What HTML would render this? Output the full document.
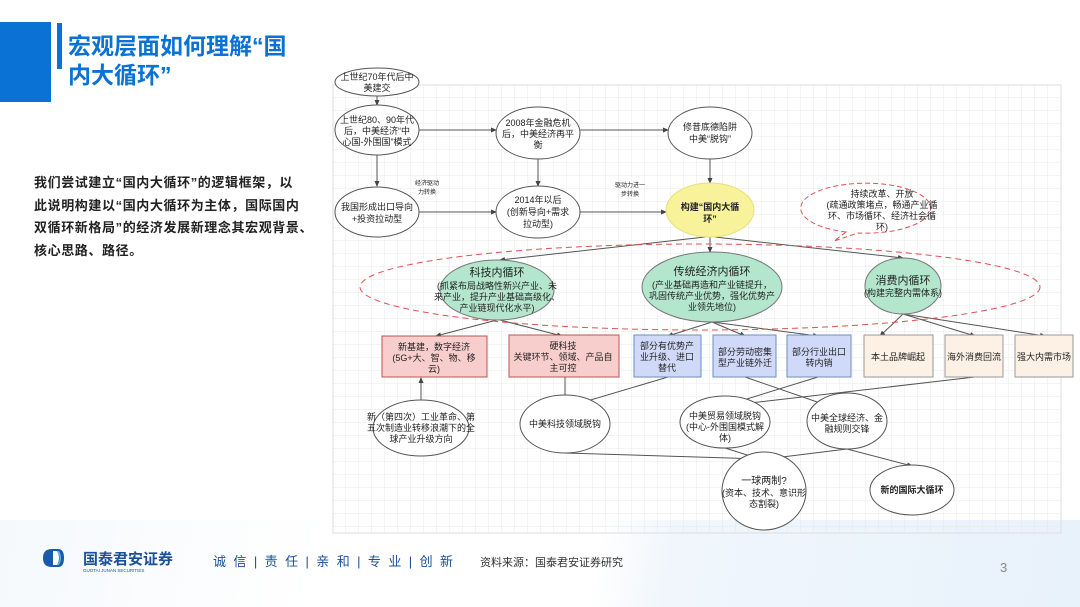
<!DOCTYPE html>
<html><head><meta charset="utf-8"><style>
html,body{margin:0;padding:0;}
body{width:1080px;height:607px;position:relative;overflow:hidden;background:#fff;font-family:"Liberation Sans","Noto Sans CJK SC",sans-serif;}
.abs{position:absolute;}
</style></head><body>
<div class="abs" style="left:0;top:520px;width:1080px;height:87px;background:linear-gradient(100deg,#f5f9fc 0%,#fff 30%,#fff 55%,#f0f6fc 62%,#e8f2fb 100%);"></div>
<div class="abs" style="left:0;top:22px;width:51px;height:80px;background:#0a72d4;"></div>
<div class="abs" style="left:57px;top:23px;width:5px;height:46px;background:#0a72d4;"></div>
<div class="abs" style="left:68px;top:32px;white-space:nowrap;font-size:23px;line-height:29px;font-weight:bold;color:#0a72d4;">宏观层面如何理解“国<br>内大循环”</div>
<div class="abs" style="left:34px;top:172px;white-space:nowrap;font-size:13px;letter-spacing:0.6px;line-height:22.5px;font-weight:bold;color:#222;">我们尝试建立“国内大循环”的逻辑框架，以<br>此说明构建以“国内大循环为主体，国际国内<br>双循环新格局”的经济发展新理念其宏观背景、<br>核心思路、路径。</div>

<svg class="abs" style="left:0;top:0" width="1080" height="607" xmlns="http://www.w3.org/2000/svg" font-family="Liberation Sans, Noto Sans CJK SC, sans-serif">
<defs>
<pattern id="g" width="13" height="13" patternUnits="userSpaceOnUse" x="333" y="85"><path d="M13 0V13H0" fill="none" stroke="#e4e4e4" stroke-width="0.8"/></pattern>
<marker id="a" markerWidth="6" markerHeight="6" refX="5" refY="3" orient="auto"><path d="M0,0.5L6,3L0,5.5z" fill="#444"/></marker>
</defs>
<rect x="333" y="85" width="728" height="448" fill="url(#g)" stroke="#ddd"/>
<g stroke="#555" stroke-width="1" fill="none" marker-end="url(#a)">
<line x1="377" y1="96" x2="377" y2="105"/>
<line x1="377" y1="155" x2="377" y2="186"/>
<line x1="419" y1="130" x2="496" y2="130"/>
<line x1="580" y1="130" x2="668" y2="130"/>
<line x1="538" y1="159" x2="538" y2="186"/>
<line x1="419" y1="212" x2="496" y2="212"/>
<line x1="580" y1="212" x2="666" y2="212"/>
<line x1="710" y1="159" x2="710" y2="183"/>
<line x1="710" y1="237" x2="710" y2="252"/>
<line x1="705" y1="237" x2="500" y2="260"/>
<line x1="715" y1="237" x2="903" y2="258"/>
<line x1="497" y1="320" x2="436" y2="336"/>
<line x1="500" y1="320" x2="562" y2="336"/>
<line x1="712" y1="322" x2="668" y2="336"/>
<line x1="712" y1="322" x2="745" y2="336"/>
<line x1="712" y1="322" x2="818" y2="336"/>
<line x1="903" y1="314" x2="880" y2="336"/>
<line x1="903" y1="314" x2="975" y2="336"/>
<line x1="903" y1="314" x2="1045" y2="336"/>
<line x1="421" y1="400" x2="421" y2="378"/>
<line x1="565" y1="377" x2="565" y2="407"/>
<line x1="668" y1="377" x2="567" y2="407"/>
<line x1="818" y1="377" x2="724" y2="406"/>
<line x1="975" y1="377" x2="724" y2="406"/>
<line x1="745" y1="377" x2="823" y2="404"/>
<line x1="565" y1="453" x2="762" y2="459"/>
<line x1="725" y1="448" x2="763" y2="460"/>
<line x1="847" y1="449" x2="766" y2="459"/>
<line x1="847" y1="449" x2="912" y2="466"/>
</g>
<g fill="#fff" stroke="#555" stroke-width="1">
<ellipse cx="377" cy="82" rx="42" ry="14"/>
<ellipse cx="377" cy="130" rx="42" ry="25"/>
<ellipse cx="377" cy="212" rx="42" ry="25"/>
<ellipse cx="538" cy="133" rx="42" ry="26"/>
<ellipse cx="538" cy="212" rx="42" ry="26"/>
<ellipse cx="710" cy="133" rx="42" ry="26"/>
<ellipse cx="710" cy="210" rx="44" ry="27" fill="#f8f39a" stroke="#e6e07a"/>
<ellipse cx="421" cy="428" rx="48" ry="28"/>
<ellipse cx="565" cy="424" rx="45" ry="29"/>
<ellipse cx="725" cy="422" rx="45" ry="26"/>
<ellipse cx="847" cy="421" rx="40" ry="28"/>
<ellipse cx="764" cy="491" rx="42" ry="39"/>
<ellipse cx="912" cy="490" rx="42" ry="25"/>
</g>
<ellipse cx="700" cy="287" rx="340" ry="43" fill="none" stroke="#e05050" stroke-dasharray="6,4"/>
<path d="M846 232 A65 25 0 1 1 858 233 L834 241 Z" fill="#fff" stroke="#e05050" stroke-dasharray="5,3"/>
<g fill="#b3e6cc" stroke="#777">
<ellipse cx="497" cy="290" rx="57" ry="30"/>
<ellipse cx="712" cy="287" rx="70" ry="35"/>
<ellipse cx="903" cy="286" rx="38" ry="28"/>
</g>
<rect x="382" y="336" width="105" height="41" fill="#f8cecc" stroke="#b85450"/>
<rect x="509" y="335" width="110" height="42" fill="#f8cecc" stroke="#b85450"/>
<rect x="634" y="335" width="67" height="42" fill="#d0d9f8" stroke="#6c8ebf"/>
<rect x="713" y="335" width="63" height="42" fill="#d0d9f8" stroke="#6c8ebf"/>
<rect x="787" y="335" width="64" height="42" fill="#d0d9f8" stroke="#6c8ebf"/>
<rect x="864" y="335" width="69" height="42" fill="#fdf1e6" stroke="#999"/>
<rect x="945" y="335" width="58" height="42" fill="#fdf1e6" stroke="#999"/>
<rect x="1015" y="335" width="58" height="42" fill="#fdf1e6" stroke="#999"/>
<g font-size="9" fill="#222" text-anchor="middle">
<text x="377" y="80">上世纪70年代后中</text><text x="377" y="91">美建交</text>
<text x="377" y="123">上世纪80、90年代</text><text x="377" y="134">后，中美经济“中</text><text x="377" y="145">心国-外围国”模式</text>
<text x="377" y="210">我国形成出口导向</text><text x="377" y="222">+投资拉动型</text>
<text x="538" y="126">2008年金融危机</text><text x="538" y="137">后，中美经济再平</text><text x="538" y="148">衡</text>
<text x="538" y="203">2014年以后</text><text x="538" y="215">(创新导向+需求</text><text x="538" y="227">拉动型)</text>
<text x="710" y="130">修昔底德陷阱</text><text x="710" y="142">中美“脱钩”</text>
<text x="710" y="210" font-weight="bold">构建“国内大循</text><text x="710" y="222" font-weight="bold">环”</text>
<text x="882" y="197">持续改革、开放</text><text x="882" y="208">(疏通政策堵点，畅通产业循</text><text x="882" y="219">环、市场循环、经济社会循</text><text x="882" y="230">环)</text>
<text x="497" y="276" font-size="11">科技内循环</text><text x="497" y="289">(抓紧布局战略性新兴产业、未</text><text x="497" y="300">来产业，提升产业基础高级化、</text><text x="497" y="311">产业链现代化水平)</text>
<text x="712" y="275" font-size="11">传统经济内循环</text><text x="712" y="288">(产业基础再造和产业链提升，</text><text x="712" y="299">巩固传统产业优势，强化优势产</text><text x="712" y="310">业领先地位)</text>
<text x="903" y="284" font-size="11">消费内循环</text><text x="903" y="296">(构建完整内需体系)</text>
<text x="434" y="350">新基建，数字经济</text><text x="434" y="361">(5G+大、智、物、移</text><text x="434" y="372">云)</text>
<text x="563" y="349">硬科技</text><text x="563" y="360">关键环节、领域、产品自</text><text x="563" y="371">主可控</text>
<text x="667" y="349">部分有优势产</text><text x="667" y="360">业升级、进口</text><text x="667" y="371">替代</text>
<text x="745" y="355">部分劳动密集</text><text x="745" y="366">型产业链外迁</text>
<text x="819" y="355">部分行业出口</text><text x="819" y="366">转内销</text>
<text x="898" y="360">本土品牌崛起</text>
<text x="974" y="360">海外消费回流</text>
<text x="1044" y="360">强大内需市场</text>
<text x="421" y="420">新（第四次）工业革命、第</text><text x="421" y="431">五次制造业转移浪潮下的全</text><text x="421" y="442">球产业升级方向</text>
<text x="565" y="427">中美科技领域脱钩</text>
<text x="725" y="419">中美贸易领域脱钩</text><text x="725" y="430">(中心-外围国模式解</text><text x="725" y="441">体)</text>
<text x="847" y="421">中美全球经济、金</text><text x="847" y="432">融规则交锋</text>
<text x="764" y="484" font-size="10">一球两制?</text><text x="764" y="496">(资本、技术、意识形</text><text x="764" y="507">态割裂)</text>
<text x="912" y="493" font-weight="bold">新的国际大循环</text>
<text x="427" y="185" font-size="6">经济驱动</text><text x="427" y="194" font-size="6">力转换</text>
<text x="630" y="187" font-size="6">驱动力进一</text><text x="630" y="196" font-size="6">步转换</text>
</g>
<path d="M52 549 Q43 549 43 558 Q43 567 52 567 L58 567 Q64 567 64 558 Q64 549 58 549Z" fill="#1a5aa8"/>
<path d="M53 551 L57 551 Q61 558 57 565 L53 565Z" fill="#fff"/>
<path d="M57 551 Q62 558 57 565 L59 565 Q63 558 59 551Z" fill="#5ab8e8"/>
<text x="83" y="564" font-size="15" font-weight="bold" fill="#1a4f9a">国泰君安证券</text>
<text x="83" y="572" font-size="4.5" fill="#1a4f9a">GUOTAI JUNAN SECURITIES</text>
<text x="213" y="566" font-size="13" fill="#1a4f9a" textLength="240" lengthAdjust="spacing">诚 信 | 责 任 | 亲 和 | 专 业 | 创 新</text>
<text x="480" y="566" font-size="11" fill="#333">资料来源：国泰君安证券研究</text>
<text x="1000" y="572" font-size="13" fill="#888">3</text>
</svg>
</body></html>
